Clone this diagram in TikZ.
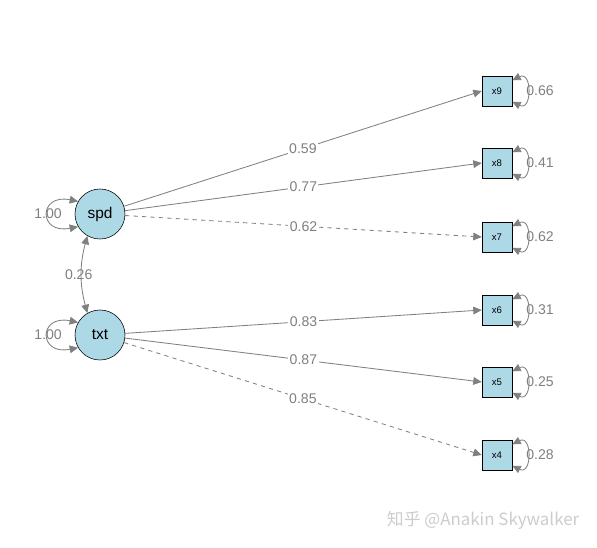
\documentclass[tikz,border=0pt]{standalone}
\usepackage{fontspec}
\setmainfont{Liberation Sans}
\newfontfamily\cjkfont{Noto Sans CJK SC}
\usetikzlibrary{arrows.meta}
\definecolor{nodeblue}{RGB}{173,216,230}
\tikzset{
  latent/.style={circle,draw=black,fill=nodeblue,minimum size=1.25cm,inner sep=0pt,font=\fontsize{11}{13}\selectfont},
  obs/.style={rectangle,draw=black,fill=nodeblue,minimum size=0.75cm,inner sep=0pt,font=\fontsize{6.8}{8}\selectfont},
  lad/.style={-{Triangle[length=6pt,width=5.5pt]},gray,line width=0.6pt},
  cov/.style={{Triangle[length=6pt,width=5.5pt]}-{Triangle[length=6pt,width=5.5pt]},gray,line width=0.6pt},
  est/.style={text=gray,font=\fontsize{10}{12}\selectfont,inner sep=1pt},
}

\begin{document}
\begin{tikzpicture}[x=0.025cm,y=-0.025cm]
  \useasboundingbox (0,0) rectangle (597,547);
  \node[latent] (spd) at (100,214) {spd};
  \node[latent] (txt) at (100,335) {txt};
  \node[obs] (x9) at (497,91) {x9}; \node[obs] (x8) at (497,163) {x8};
  \node[obs] (x7) at (497,237) {x7}; \node[obs] (x6) at (497,310) {x6};
  \node[obs] (x5) at (497,382) {x5}; \node[obs] (x4) at (497,455) {x4};
  % loadings
  \draw[lad] (spd) -- (x9.west) node[midway,est,fill=white]{0.59};
  \draw[lad] (spd) -- (x8.west) node[midway,est,fill=white]{0.77};
  \draw[lad,dashed] (spd) -- (x7.west) node[midway,est,fill=white]{0.62};
  \draw[lad] (txt) -- (x6.west) node[midway,est,fill=white]{0.83};
  \draw[lad] (txt) -- (x5.west) node[midway,est,fill=white]{0.87};
  \draw[lad,dashed] (txt) -- (x4.west) node[midway,est,fill=white]{0.85};
  % variances
  \draw[cov] (spd.150) .. controls +(-40,-8) and +(-40,8) .. (spd.210) node[midway,est]{1.00};
  \draw[cov] (txt.150) .. controls +(-40,-8) and +(-40,8) .. (txt.210) node[midway,est]{1.00};
  \draw[cov] (spd.240) to[bend right=15] node[midway,est,xshift=-2pt]{0.26} (txt.120);
  \draw[cov] (x9.35) .. controls +(20,-10) and +(20,10) .. (x9.-35) node[midway,est,anchor=west,xshift=-2pt]{0.66};
  \draw[cov] (x8.35) .. controls +(20,-10) and +(20,10) .. (x8.-35) node[midway,est,anchor=west,xshift=-2pt]{0.41};
  \draw[cov] (x7.35) .. controls +(20,-10) and +(20,10) .. (x7.-35) node[midway,est,anchor=west,xshift=-2pt]{0.62};
  \draw[cov] (x6.35) .. controls +(20,-10) and +(20,10) .. (x6.-35) node[midway,est,anchor=west,xshift=-2pt]{0.31};
  \draw[cov] (x5.35) .. controls +(20,-10) and +(20,10) .. (x5.-35) node[midway,est,anchor=west,xshift=-2pt]{0.25};
  \draw[cov] (x4.35) .. controls +(20,-10) and +(20,10) .. (x4.-35) node[midway,est,anchor=west,xshift=-2pt]{0.28};
  \node[text=gray!40,font=\fontsize{12}{14}\selectfont\cjkfont] (wm) at (483,520) {知乎 @Anakin Skywalker};
\end{tikzpicture}
\end{document}
